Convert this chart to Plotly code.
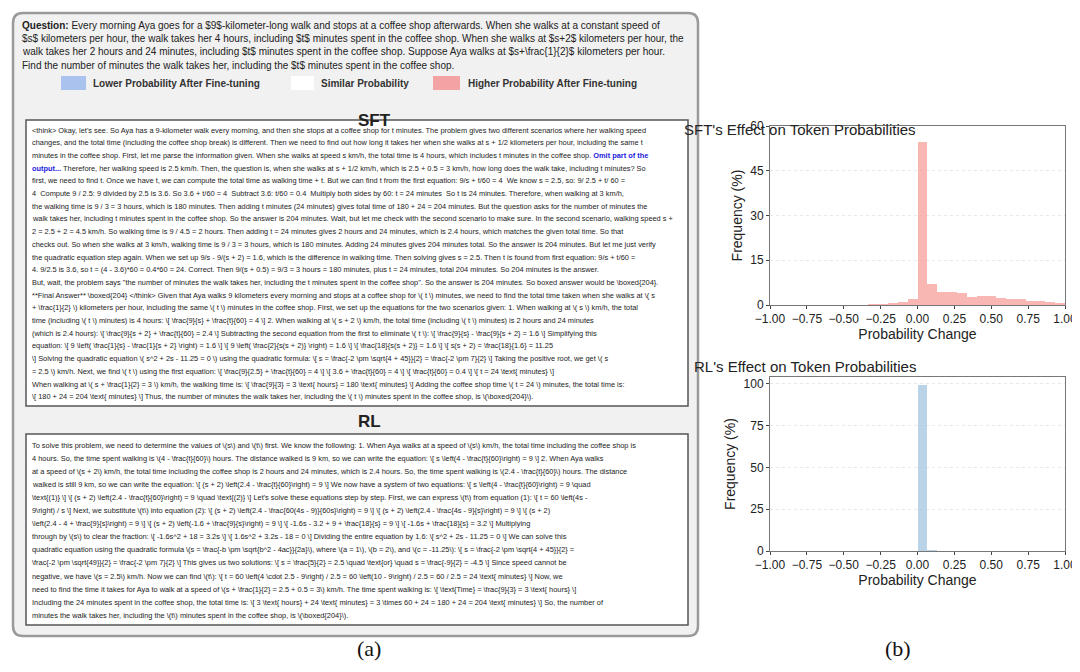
import plotly.graph_objects as go

W, H = 1080, 672

# histogram data (bin left edges, width 1/15)
bin_left = [-0.3333, -0.2667, -0.2, -0.1333, -0.0667, 0.0, 0.0667, 0.1333, 0.2, 0.2667,
            0.3333, 0.4, 0.4667, 0.5333, 0.6, 0.6667, 0.7333, 0.8, 0.8667, 0.9333]
sft_freq = [0.3, 0.4, 0.6, 1.0, 2.0, 54.5, 7.0, 4.5, 4.2, 4.0,
            2.8, 3.1, 2.9, 2.5, 2.1, 2.0, 1.4, 1.3, 1.0, 0.6]
rl_freq = [0, 0, 0, 0, 0.2, 99.0, 0.4, 0, 0, 0,
           0, 0, 0, 0, 0, 0, 0, 0, 0, 0]
bin_w = 1 / 15
x_ticks = [-1.0, -0.75, -0.5, -0.25, 0.0, 0.25, 0.5, 0.75, 1.0]

question = [
    "<b>Question:</b> Every morning Aya goes for a $9$-kilometer-long walk and stops at a coffee shop afterwards. When she walks at a constant speed of",
    "$s$ kilometers per hour, the walk takes her 4 hours, including $t$ minutes spent in the coffee shop. When she walks at $s+2$ kilometers per hour, the",
    "walk takes her 2 hours and 24 minutes, including $t$ minutes spent in the coffee shop. Suppose Aya walks at $s+\\frac{1}{2}$ kilometers per hour.",
    "Find the number of minutes the walk takes her, including the $t$ minutes spent in the coffee shop.",
]

sft_lines = [
    "&lt;think&gt; Okay, let's see. So Aya has a 9-kilometer walk every morning, and then she stops at a coffee shop for t minutes. The problem gives two different scenarios where her walking speed",
    "changes, and the total time (including the coffee shop break) is different. Then we need to find out how long it takes her when she walks at s + 1/2 kilometers per hour, including the same t",
    "minutes in the coffee shop. First, let me parse the information given. When she walks at speed s km/h, the total time is 4 hours, which includes t minutes in the coffee shop. <b><span style='color:#1a1adc'>Omit part of the</span></b>",
    "<b><span style='color:#1a1adc'>output...</span></b> Therefore, her walking speed is 2.5 km/h. Then, the question is, when she walks at s + 1/2 km/h, which is 2.5 + 0.5 = 3 km/h, how long does the walk take, including t minutes? So",
    "first, we need to find t. Once we have t, we can compute the total time as walking time + t. But we can find t from the first equation: 9/s + t/60 = 4  We know s = 2.5, so: 9/ 2.5 + t/ 60 =",
    "4  Compute 9 / 2.5: 9 divided by 2.5 is 3.6. So 3.6 + t/60 = 4  Subtract 3.6: t/60 = 0.4  Multiply both sides by 60: t = 24 minutes  So t is 24 minutes. Therefore, when walking at 3 km/h,",
    "the walking time is 9 / 3 = 3 hours, which is 180 minutes. Then adding t minutes (24 minutes) gives total time of 180 + 24 = 204 minutes. But the question asks for the number of minutes the",
    "walk takes her, including t minutes spent in the coffee shop. So the answer is 204 minutes. Wait, but let me check with the second scenario to make sure. In the second scenario, walking speed s +",
    "2 = 2.5 + 2 = 4.5 km/h. So walking time is 9 / 4.5 = 2 hours. Then adding t = 24 minutes gives 2 hours and 24 minutes, which is 2.4 hours, which matches the given total time. So that",
    "checks out. So when she walks at 3 km/h, walking time is 9 / 3 = 3 hours, which is 180 minutes. Adding 24 minutes gives 204 minutes total. So the answer is 204 minutes. But let me just verify",
    "the quadratic equation step again. When we set up 9/s - 9/(s + 2) = 1.6, which is the difference in walking time. Then solving gives s = 2.5. Then t is found from first equation: 9/s + t/60 =",
    "4. 9/2.5 is 3.6, so t = (4 - 3.6)*60 = 0.4*60 = 24. Correct. Then 9/(s + 0.5) = 9/3 = 3 hours = 180 minutes, plus t = 24 minutes, total 204 minutes. So 204 minutes is the answer.",
    "But, wait, the problem says \"the number of minutes the walk takes her, including the t minutes spent in the coffee shop\". So the answer is 204 minutes. So boxed answer would be \\boxed{204}.",
    "**Final Answer** \\boxed{204} &lt;/think&gt; Given that Aya walks 9 kilometers every morning and stops at a coffee shop for \\( t \\) minutes, we need to find the total time taken when she walks at \\( s",
    "+ \\frac{1}{2} \\) kilometers per hour, including the same \\( t \\) minutes in the coffee shop. First, we set up the equations for the two scenarios given: 1. When walking at \\( s \\) km/h, the total",
    "time (including \\( t \\) minutes) is 4 hours: \\[ \\frac{9}{s} + \\frac{t}{60} = 4 \\] 2. When walking at \\( s + 2 \\) km/h, the total time (including \\( t \\) minutes) is 2 hours and 24 minutes",
    "(which is 2.4 hours): \\[ \\frac{9}{s + 2} + \\frac{t}{60} = 2.4 \\] Subtracting the second equation from the first to eliminate \\( t \\): \\[ \\frac{9}{s} - \\frac{9}{s + 2} = 1.6 \\] Simplifying this",
    "equation: \\[ 9 \\left( \\frac{1}{s} - \\frac{1}{s + 2} \\right) = 1.6 \\] \\[ 9 \\left( \\frac{2}{s(s + 2)} \\right) = 1.6 \\] \\[ \\frac{18}{s(s + 2)} = 1.6 \\] \\[ s(s + 2) = \\frac{18}{1.6} = 11.25",
    "\\] Solving the quadratic equation \\( s^2 + 2s - 11.25 = 0 \\) using the quadratic formula: \\[ s = \\frac{-2 \\pm \\sqrt{4 + 45}}{2} = \\frac{-2 \\pm 7}{2} \\] Taking the positive root, we get \\( s",
    "= 2.5 \\) km/h. Next, we find \\( t \\) using the first equation: \\[ \\frac{9}{2.5} + \\frac{t}{60} = 4 \\] \\[ 3.6 + \\frac{t}{60} = 4 \\] \\[ \\frac{t}{60} = 0.4 \\] \\[ t = 24 \\text{ minutes} \\]",
    "When walking at \\( s + \\frac{1}{2} = 3 \\) km/h, the walking time is: \\[ \\frac{9}{3} = 3 \\text{ hours} = 180 \\text{ minutes} \\] Adding the coffee shop time \\( t = 24 \\) minutes, the total time is:",
    "\\[ 180 + 24 = 204 \\text{ minutes} \\] Thus, the number of minutes the walk takes her, including the \\( t \\) minutes spent in the coffee shop, is \\(\\boxed{204}\\).",
]

rl_lines = [
    "To solve this problem, we need to determine the values of \\(s\\) and \\(t\\) first. We know the following: 1. When Aya walks at a speed of \\(s\\) km/h, the total time including the coffee shop is",
    "4 hours. So, the time spent walking is \\(4 - \\frac{t}{60}\\) hours. The distance walked is 9 km, so we can write the equation: \\[ s \\left(4 - \\frac{t}{60}\\right) = 9 \\] 2. When Aya walks",
    "at a speed of \\(s + 2\\) km/h, the total time including the coffee shop is 2 hours and 24 minutes, which is 2.4 hours. So, the time spent walking is \\(2.4 - \\frac{t}{60}\\) hours. The distance",
    "walked is still 9 km, so we can write the equation: \\[ (s + 2) \\left(2.4 - \\frac{t}{60}\\right) = 9 \\] We now have a system of two equations: \\[ s \\left(4 - \\frac{t}{60}\\right) = 9 \\quad",
    "\\text{(1)} \\] \\[ (s + 2) \\left(2.4 - \\frac{t}{60}\\right) = 9 \\quad \\text{(2)} \\] Let's solve these equations step by step. First, we can express \\(t\\) from equation (1): \\[ t = 60 \\left(4s -",
    "9\\right) / s \\] Next, we substitute \\(t\\) into equation (2): \\[ (s + 2) \\left(2.4 - \\frac{60(4s - 9)}{60s}\\right) = 9 \\] \\[ (s + 2) \\left(2.4 - \\frac{4s - 9}{s}\\right) = 9 \\] \\[ (s + 2)",
    "\\left(2.4 - 4 + \\frac{9}{s}\\right) = 9 \\] \\[ (s + 2) \\left(-1.6 + \\frac{9}{s}\\right) = 9 \\] \\[ -1.6s - 3.2 + 9 + \\frac{18}{s} = 9 \\] \\[ -1.6s + \\frac{18}{s} = 3.2 \\] Multiplying",
    "through by \\(s\\) to clear the fraction: \\[ -1.6s^2 + 18 = 3.2s \\] \\[ 1.6s^2 + 3.2s - 18 = 0 \\] Dividing the entire equation by 1.6: \\[ s^2 + 2s - 11.25 = 0 \\] We can solve this",
    "quadratic equation using the quadratic formula \\(s = \\frac{-b \\pm \\sqrt{b^2 - 4ac}}{2a}\\), where \\(a = 1\\), \\(b = 2\\), and \\(c = -11.25\\): \\[ s = \\frac{-2 \\pm \\sqrt{4 + 45}}{2} =",
    "\\frac{-2 \\pm \\sqrt{49}}{2} = \\frac{-2 \\pm 7}{2} \\] This gives us two solutions: \\[ s = \\frac{5}{2} = 2.5 \\quad \\text{or} \\quad s = \\frac{-9}{2} = -4.5 \\] Since speed cannot be",
    "negative, we have \\(s = 2.5\\) km/h. Now we can find \\(t\\): \\[ t = 60 \\left(4 \\cdot 2.5 - 9\\right) / 2.5 = 60 \\left(10 - 9\\right) / 2.5 = 60 / 2.5 = 24 \\text{ minutes} \\] Now, we",
    "need to find the time it takes for Aya to walk at a speed of \\(s + \\frac{1}{2} = 2.5 + 0.5 = 3\\) km/h. The time spent walking is: \\[ \\text{Time} = \\frac{9}{3} = 3 \\text{ hours} \\]",
    "Including the 24 minutes spent in the coffee shop, the total time is: \\[ 3 \\text{ hours} + 24 \\text{ minutes} = 3 \\times 60 + 24 = 180 + 24 = 204 \\text{ minutes} \\] So, the number of",
    "minutes the walk takes her, including the \\(t\\) minutes spent in the coffee shop, is \\(\\boxed{204}\\).",
]

legend_labels = ["Lower Probability After Fine-tuning", "Similar Probability", "Higher Probability After Fine-tuning"]
legend_colors = ["#a9c3ee", "#ffffff", "#f3a3a3"]


def px(x):
    return x / W


def py(y):
    return 1 - y / H


def rounded(x0, y0, x1, y1, r):
    a, b, c, d = px(x0), py(y0), px(x1), py(y1)
    rx, ry = r / W, r / H
    return (f"M {a+rx},{b} L {c-rx},{b} Q {c},{b} {c},{b-ry} L {c},{d+ry} Q {c},{d} {c-rx},{d} "
            f"L {a+rx},{d} Q {a},{d} {a},{d+ry} L {a},{b-ry} Q {a},{b} {a+rx},{b} Z")


centers = [b + bin_w / 2 for b in bin_left]
fig = go.Figure()
fig.add_trace(go.Bar(x=centers, y=sft_freq, width=bin_w, marker=dict(color="rgba(248,165,160,0.8)", line=dict(width=0)),
                     xaxis="x", yaxis="y", showlegend=False))
fig.add_trace(go.Bar(x=centers, y=rl_freq, width=bin_w, marker=dict(color="rgba(170,200,225,0.8)", line=dict(width=0)),
                     xaxis="x2", yaxis="y2", showlegend=False))

shapes = [
    dict(type="path", path=rounded(5, 5, 690, 628, 10), xref="paper", yref="paper",
         line=dict(color="#9a9a9a", width=2.5), fillcolor="#f1f1f1", layer="below"),
    dict(type="rect", xref="paper", yref="paper", x0=px(18), x1=px(680), y0=py(112), y1=py(398),
         line=dict(color="#555555", width=1.5), fillcolor="white", layer="below"),
    dict(type="rect", xref="paper", yref="paper", x0=px(18), x1=px(680), y0=py(426), y1=py(617),
         line=dict(color="#555555", width=1.5), fillcolor="white", layer="below"),
]
legend_sw = [(53, 78), (283, 306), (425, 452)]
legend_tx = [83, 311, 458]
annotations = []
for (a, b), col, tx, lab in zip(legend_sw, legend_colors, legend_tx, legend_labels):
    shapes.append(dict(type="rect", xref="paper", yref="paper", x0=px(a), x1=px(b), y0=py(82), y1=py(68),
                       line=dict(width=0), fillcolor=col))
    annotations.append(dict(x=px(tx), y=py(75), xref="paper", yref="paper", text=f"<b>{lab}</b>",
                            showarrow=False, xanchor="left", yanchor="middle",
                            font=dict(family="Liberation Sans", size=10, color="#333")))

for i, t in enumerate(question):
    annotations.append(dict(x=px(12), y=py(17 + i * 13.5), xref="paper", yref="paper", text=t, showarrow=False,
                            xanchor="left", yanchor="middle", font=dict(family="Liberation Sans", size=10, color="#222")))
for i, t in enumerate(sft_lines):
    annotations.append(dict(x=px(22), y=py(122 + i * 12.7), xref="paper", yref="paper", text=t, showarrow=False,
                            xanchor="left", yanchor="middle", font=dict(family="Liberation Sans", size=7.4, color="#222")))
for i, t in enumerate(rl_lines):
    annotations.append(dict(x=px(22), y=py(437 + i * 13.1), xref="paper", yref="paper", text=t, showarrow=False,
                            xanchor="left", yanchor="middle", font=dict(family="Liberation Sans", size=7.4, color="#222")))

annotations += [
    dict(x=px(348), y=py(101), xref="paper", yref="paper", text="<b>SFT</b>", showarrow=False,
         font=dict(family="Liberation Sans", size=17, color="#222")),
    dict(x=px(348), y=py(413), xref="paper", yref="paper", text="<b>RL</b>", showarrow=False,
         font=dict(family="Liberation Sans", size=17, color="#222")),
    dict(x=px(347), y=py(655), xref="paper", yref="paper", text="(a)", showarrow=False,
         font=dict(family="Liberation Serif", size=22, color="#111")),
    dict(x=px(905), y=py(655), xref="paper", yref="paper", text="(b)", showarrow=False,
         font=dict(family="Liberation Serif", size=22, color="#111")),
    dict(x=px(910), y=py(111), xref="paper", yref="paper", text="SFT's Effect on Token Probabilities", showarrow=False,
         font=dict(family="Liberation Sans", size=15, color="#222")),
    dict(x=px(910), y=py(358), xref="paper", yref="paper", text="RL's Effect on Token Probabilities", showarrow=False,
         font=dict(family="Liberation Sans", size=15, color="#222")),
]

ax_common = dict(range=[-1, 1], tickvals=x_ticks, tickformat=".2f", showline=True, mirror=True, linecolor="#777",
                 ticks="outside", ticklen=3, showgrid=False, zeroline=False, automargin=False,
                 tickfont=dict(family="Liberation Sans", size=12, color="#222"),
                 title=dict(text="Probability Change", standoff=2, font=dict(family="Liberation Sans", size=14, color="#222")))
ay_common = dict(showline=True, mirror=True, linecolor="#777", ticks="outside", ticklen=3, zeroline=False,
                 gridcolor="#e8e8e8", griddash="dot", automargin=False,
                 tickfont=dict(family="Liberation Sans", size=12, color="#222"),
                 title=dict(text="Frequency (%)", standoff=4, font=dict(family="Liberation Sans", size=14, color="#222")))

fig.update_layout(
    width=W, height=H, margin=dict(l=0, r=0, t=0, b=0, autoexpand=False), paper_bgcolor="white", plot_bgcolor="white",
    bargap=0, shapes=shapes, annotations=annotations,
    xaxis=dict(domain=[px(762), px(1057)], anchor="y", **ax_common),
    yaxis=dict(domain=[py(297), py(118)], anchor="x", range=[0, 60], tickvals=[0, 15, 30, 45, 60], **ay_common),
    xaxis2=dict(domain=[px(762), px(1057)], anchor="y2", **ax_common),
    yaxis2=dict(domain=[py(543), py(369)], anchor="x2", range=[0, 104], tickvals=[0, 25, 50, 75, 100], **ay_common),
)

fig.write_html("out.html")
